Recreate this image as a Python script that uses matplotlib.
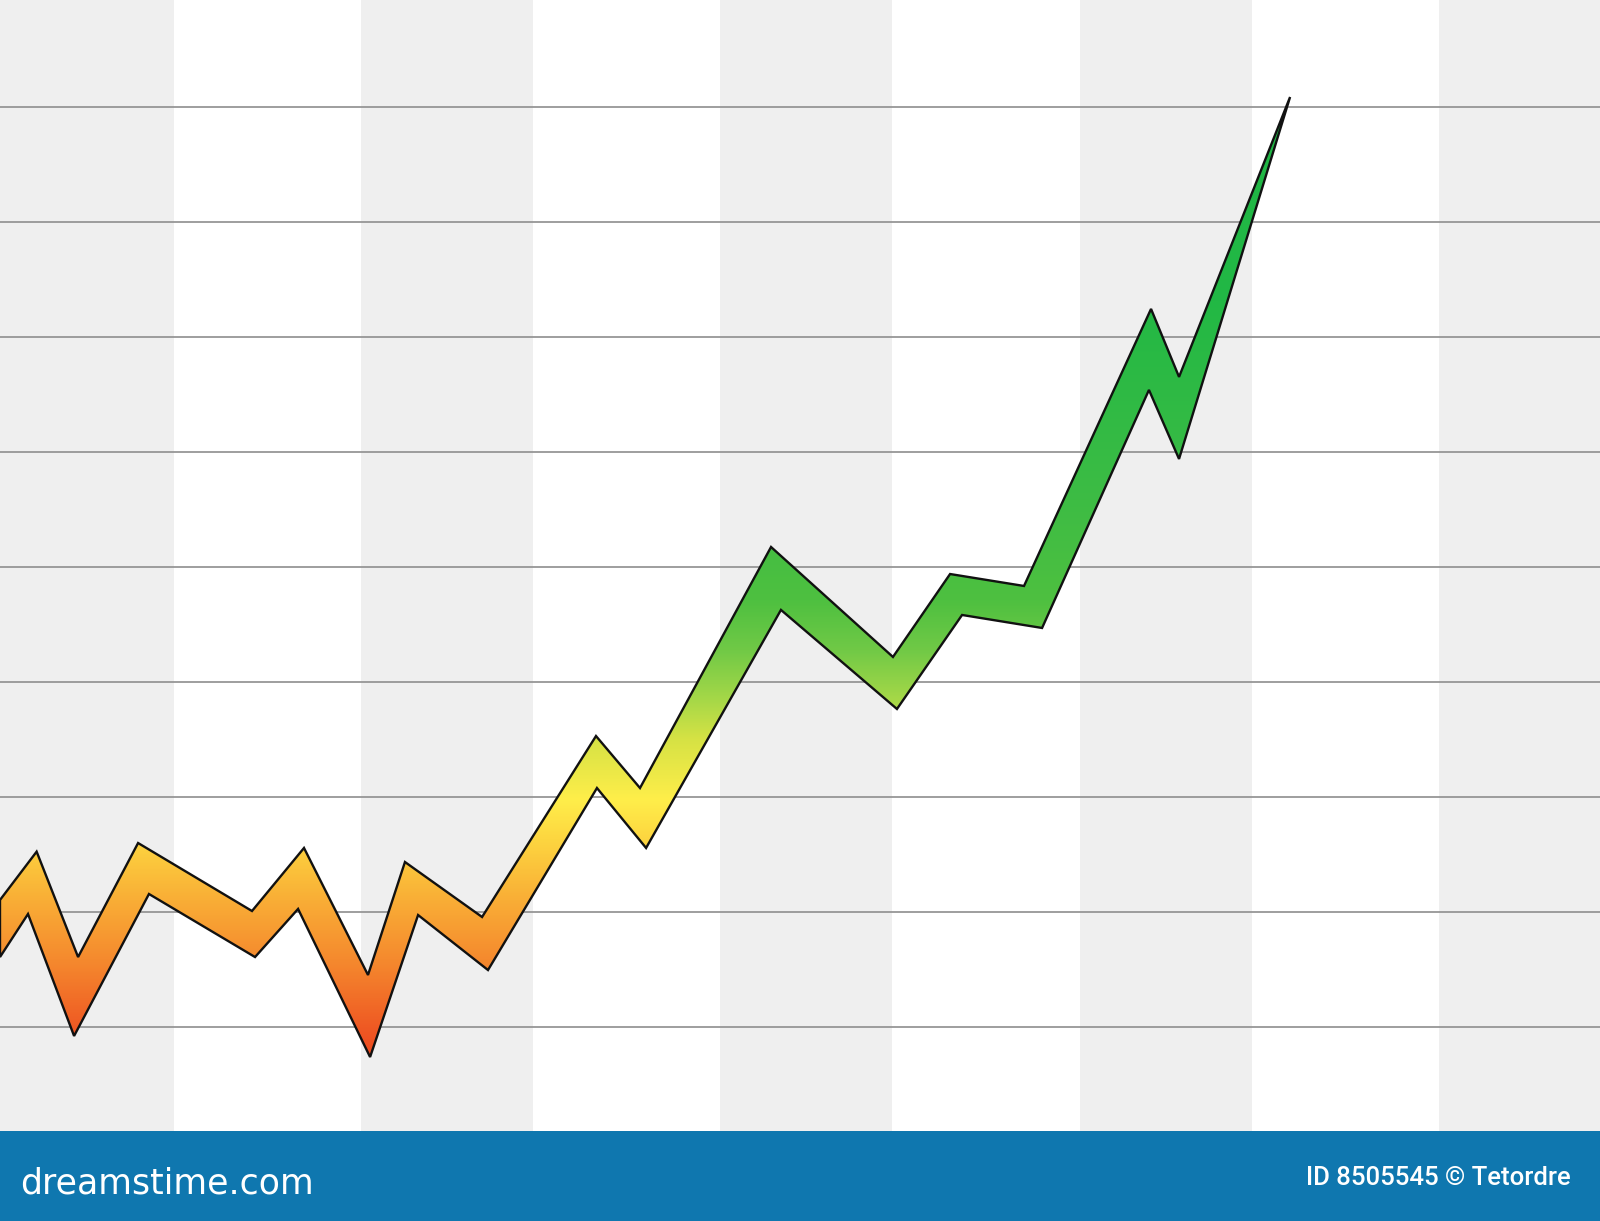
import numpy as np
import matplotlib
matplotlib.use("Agg")
import matplotlib.pyplot as plt
from matplotlib.colors import LinearSegmentedColormap
from matplotlib.patches import Polygon, Rectangle

# ---- data (x in time units, y in value units) ----
top_x = [0, 2.29, 4.88, 8.63, 15.75, 19.0, 23.0, 25.31, 30.13, 37.25, 40.0,
         48.19, 55.81, 59.38, 64.0, 71.94, 73.69, 80.63]
top_y = [21.04, 25.24, 16.08, 25.99, 20.08, 25.56, 14.52, 24.34, 19.56, 35.29,
         30.77, 51.72, 42.16, 49.37, 48.33, 72.41, 66.50, 90.83]
bot_x = [0, 1.75, 4.63, 9.31, 15.94, 18.63, 23.13, 26.13, 30.5, 37.31, 40.38,
         48.81, 56.06, 60.13, 65.13, 71.81, 73.69, 80.63]
bot_y = [16.08, 19.82, 9.22, 21.56, 16.08, 20.26, 7.39, 19.73, 14.95, 30.77,
         25.56, 46.25, 37.64, 45.81, 44.68, 65.37, 59.37, 90.83]

grid_values = [10, 20, 30, 40, 50, 60, 70, 80, 90]
stripe_edges = [0, 10.9, 22.56, 33.31, 45.0, 55.75, 67.5, 78.25, 89.94, 100]

grad_vals = [7.0, 8.9, 15.8, 21.0, 26.3, 29.7, 35.0, 38.4, 42.8, 47.1, 55.8, 73.2, 91.0]
grad_cols = ["#EC4A1E", "#EE5222", "#F58A2E", "#F9AE36", "#FDD640", "#FFEE4A",
             "#D6E244", "#A6D848", "#70C946", "#4EC040", "#3DBC44", "#22B845", "#20B645"]

footer_left = "dreamstime.com"
footer_right = "ID 8505545 © Tetordre"

# ---- figure ----
W, H = 1600, 1221
fig = plt.figure(figsize=(W / 100, H / 100), dpi=100)
banner_h = 90
ax = fig.add_axes([0, banner_h / H, 1, 1 - banner_h / H])
ax.set_xlim(0, 100)
ax.set_ylim(0.96, 99.26)
ax.axis("off")

# stripes
for i in range(len(stripe_edges) - 1):
    col = "#EFEFEF" if i % 2 == 0 else "#FFFFFF"
    ax.axvspan(stripe_edges[i], stripe_edges[i + 1], color=col, lw=0, zorder=0)

# grid lines
for g in grid_values:
    ax.axhline(g, color="#8E8E8E", lw=1.2, zorder=1)

# ribbon polygon
poly_pts = list(zip(top_x, top_y)) + list(zip(bot_x[::-1], bot_y[::-1]))
lo, hi = grad_vals[0], grad_vals[-1]
pos = [(v - lo) / (hi - lo) for v in grad_vals]
cmap = LinearSegmentedColormap.from_list("rib", list(zip(pos, grad_cols)))
grad = np.linspace(lo, hi, 512).reshape(-1, 1)
im = ax.imshow(grad, cmap=cmap, vmin=lo, vmax=hi, origin="lower",
               extent=[0, 100, lo, hi], aspect="auto", zorder=2,
               interpolation="bicubic")
clip = Polygon(poly_pts, closed=True, transform=ax.transData)
im.set_clip_path(clip)
ax.add_patch(Polygon(poly_pts, closed=True, fill=False, edgecolor="#111111",
                     lw=1.7, joinstyle="miter", zorder=3))
ax.set_xlim(0, 100)
ax.set_ylim(0.96, 99.26)

# banner
fig.patches.append(Rectangle((0, 0), 1, banner_h / H, transform=fig.transFigure,
                             facecolor="#0F77AF", edgecolor="none", zorder=0))
fig.text(20 / W, (H - 1193) / H, footer_left, color="white", fontsize=25,
         family="DejaVu Sans", va="baseline", ha="left")
fig.text(1571 / W, (H - 1185) / H, footer_right, color="white", fontsize=18.5,
         family="Roboto", weight="medium", va="baseline", ha="right")

fig.savefig("out.png", dpi=100)
